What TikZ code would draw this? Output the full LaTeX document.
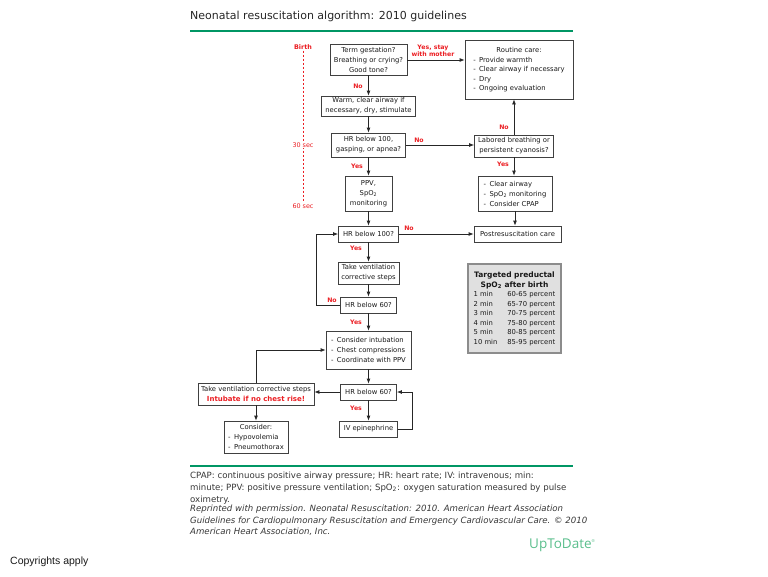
\documentclass[tikz,border=0pt]{standalone}
\usepackage{fontspec}
\setmainfont{DejaVu Sans}
\newfontfamily\logofont{Open Sans}
\newfontfamily\copyfont{Liberation Sans}
\usetikzlibrary{arrows.meta,calc}

\definecolor{utdgreen}{RGB}{0,150,100}
\definecolor{logogreen}{RGB}{90,190,140}
\definecolor{alertred}{RGB}{235,30,35}
\definecolor{notegray}{RGB}{55,55,55}

\newcommand{\hdr}[1]{\multicolumn{1}{@{}c@{}}{#1}}
\newcommand{\dsh}{-\enspace}

\tikzset{
  box/.style={draw=black!75, line width=0.8pt, text=black!90, font=\fontsize{6.8}{10}\selectfont, align=center, inner sep=1pt},
  lbl/.style={text=alertred, font=\fontsize{6.2}{7.5}\selectfont\bfseries, inner sep=0pt, align=center},
  arr/.style={-{Latex[length=5pt,width=4pt]}, line width=0.8pt, black!85},
  tick/.style={text=alertred, font=\fontsize{6.4}{7.5}\selectfont, inner sep=1pt, fill=white},
}

\begin{document}
\begin{tikzpicture}[x=1pt,y=-1pt]
	\useasboundingbox (0,0) rectangle (768,576);

	% heading
	\node[anchor=west, inner sep=0pt, text=black!85, font=\fontsize{11}{13}\selectfont] (title) at (190,16) {Neonatal resuscitation algorithm: 2010 guidelines};
	\draw[utdgreen, line width=2.6pt] (190,31) -- (573,31);

	% time line
	\node[tick, font=\fontsize{6.4}{7.5}\selectfont\bfseries] (birth) at (303,47) {Birth};
	\node[tick] (t60) at (303,206) {60 sec};
	\draw[alertred, line width=0.6pt, dash pattern=on 2pt off 2pt] (birth.south) -- (t60.north);
	\node[tick] (t30) at (303,145) {30 sec};

	% left column
	\node[box, minimum width=77pt, minimum height=31pt] (term) at (368.5,59.5) {Term gestation?\\Breathing or crying?\\Good tone?};
	\node[box, minimum width=94pt, minimum height=20pt] (warm) at (368.5,106) {Warm, clear airway if\\necessary, dry, stimulate};
	\node[box, minimum width=74pt, minimum height=24pt] (hrA) at (368.5,145) {HR below 100,\\gasping, or apnea?};
	\node[box, minimum width=47pt, minimum height=35pt] (ppv) at (368.5,193.5) {PPV,\\SpO\textsubscript{2}\\monitoring};
	\node[box, minimum width=60pt, minimum height=16pt] (hrB) at (368.5,234) {HR below 100?};
	\node[box, minimum width=61pt, minimum height=22pt] (vent) at (368.5,273) {Take ventilation\\corrective steps};
	\node[box, minimum width=56pt, minimum height=16pt] (hrC) at (368.5,305) {HR below 60?};
	\node[box, minimum width=85pt, minimum height=38pt, align=left] (intub) at (368.5,350) {\dsh Consider intubation\\\dsh Chest compressions\\\dsh Coordinate with PPV};
	\node[box, minimum width=56pt, minimum height=16pt] (hrD) at (368.5,392) {HR below 60?};
	\node[box, minimum width=58pt, minimum height=16pt] (epi) at (368.5,429) {IV epinephrine};

	% right column
	\node[box, minimum width=108pt, minimum height=59pt] (routine) at (519,69.5) {\begin{tabular}{@{}l@{}}\hdr{Routine care:}\\[-0.5pt]\dsh Provide warmth\\[-0.5pt]\dsh Clear airway if necessary\\[-0.5pt]\dsh Dry\\[-0.5pt]\dsh Ongoing evaluation\end{tabular}};
	\node[box, minimum width=79pt, minimum height=22pt] (labored) at (514,146) {Labored breathing or\\persistent cyanosis?};
	\node[box, minimum width=74pt, minimum height=35pt, align=left] (clear) at (515,193.5) {\dsh Clear airway\\\dsh SpO\textsubscript{2} monitoring\\\dsh Consider CPAP};
	\node[box, minimum width=87pt, minimum height=16pt] (post) at (517.5,234) {Postresuscitation care};

	% far left
	\node[box, minimum width=116pt, minimum height=22pt] (vent2) at (256,394) {Take ventilation corrective steps\\{\color{alertred}\bfseries\fontsize{7}{8}\selectfont Intubate if no chest rise!}};
	\node[box, minimum width=64pt, minimum height=32pt] (consider) at (256,437) {\begin{tabular}{@{}l@{}}\hdr{Consider:}\\\dsh Hypovolemia\\\dsh Pneumothorax\end{tabular}};

	% SpO2 targets
	\node[box, draw=black!45, fill=black!12, line width=1.2pt, minimum width=93pt, minimum height=89pt] (spo2) at (514.5,308.5) {\begin{tabular}{@{}l@{\hspace{10pt}}l@{}}
		\multicolumn{2}{@{}c@{}}{\bfseries\fontsize{7.5}{9.5}\selectfont Targeted preductal}\\
		\multicolumn{2}{@{}c@{}}{\bfseries\fontsize{7.5}{9.5}\selectfont SpO\textsubscript{2} after birth}\\[-0.5pt]
		1 min & 60-65 percent\\[-0.5pt]
		2 min & 65-70 percent\\[-0.5pt]
		3 min & 70-75 percent\\[-0.5pt]
		4 min & 75-80 percent\\[-0.5pt]
		5 min & 80-85 percent\\[-0.5pt]
		10 min & 85-95 percent
	\end{tabular}};

	% arrows
	\draw[arr] (term.east |- 0,60) -- (routine.west |- 0,60);
	\draw[arr] (term) -- (warm);
	\draw[arr] (warm) -- (hrA);
	\draw[arr] (hrA.east) -- (hrA.east -| labored.west);
	\draw[arr] (labored.north) -- (labored.north |- routine.south);
	\draw[arr] (hrA) -- (ppv);
	\draw[arr] (labored.south) -- (labored.south |- clear.north);
	\draw[arr] (ppv) -- (hrB);
	\draw[arr] (clear.south) -- (clear.south |- post.north);
	\draw[arr] (hrB.east) -- (post.west);
	\draw[arr] (hrB) -- (vent);
	\draw[arr] (vent) -- (hrC);
	\draw[arr] (hrC.west) -- ++(-24,0) |- (hrB.west);
	\draw[arr] (hrC) -- (intub);
	\draw[arr] (intub) -- (hrD);
	\draw[arr] (hrD.west) -- (hrD.west -| vent2.east);
	\draw[arr] (vent2.north) |- (intub.west);
	\draw[arr] (hrD) -- (epi);
	\draw[arr] (epi.east) -- ++(14,0) |- (hrD.east);
	\draw[arr] (vent2.south) -- (vent2.south |- consider.north);

	% red labels
	\node[lbl] (yesstay) at (433,51) {Yes, stay\\with mother};
	\node[lbl] (noA) at (358,86) {No};
	\node[lbl] (noB) at (419,140) {No};
	\node[lbl] (noC) at (504,127) {No};
	\node[lbl] (yesA) at (357,166) {Yes};
	\node[lbl] (yesB) at (503,164) {Yes};
	\node[lbl] (noD) at (409,228) {No};
	\node[lbl] (yesC) at (356,248) {Yes};
	\node[lbl] (noE) at (332,300) {No};
	\node[lbl] (yesD) at (356,322) {Yes};
	\node[lbl] (yesE) at (356,408) {Yes};

	% notes
	\draw[utdgreen, line width=1.4pt] (190,466) -- (573,466);
	\node[anchor=north west, inner sep=0pt, align=left, text=notegray, font=\fontsize{8.6}{12}\selectfont] (abbr) at (190,471.5) {CPAP: continuous positive airway pressure; HR: heart rate; IV: intravenous; min:\\minute; PPV: positive pressure ventilation; SpO\textsubscript{2}: oxygen saturation measured by pulse\\oximetry.};
	\node[anchor=north west, inner sep=0pt, align=left, text=notegray, font=\fontsize{8.6}{11.5}\selectfont\itshape] (reprint) at (190,505) {Reprinted with permission. Neonatal Resuscitation: 2010. American Heart Association\\Guidelines for Cardiopulmonary Resuscitation and Emergency Cardiovascular Care. © 2010\\American Heart Association, Inc.};

	\node[anchor=west, inner sep=0pt, text=logogreen, font=\logofont\fontsize{13.5}{15}\selectfont] (logo) at (529,545) {UpToDate\textsuperscript{\fontsize{4}{4}\selectfont ®}};
	\node[anchor=west, inner sep=0pt, text=black!90, font=\copyfont\fontsize{10.5}{12}\selectfont] (copy) at (10,562) {Copyrights apply};
\end{tikzpicture}
\end{document}
